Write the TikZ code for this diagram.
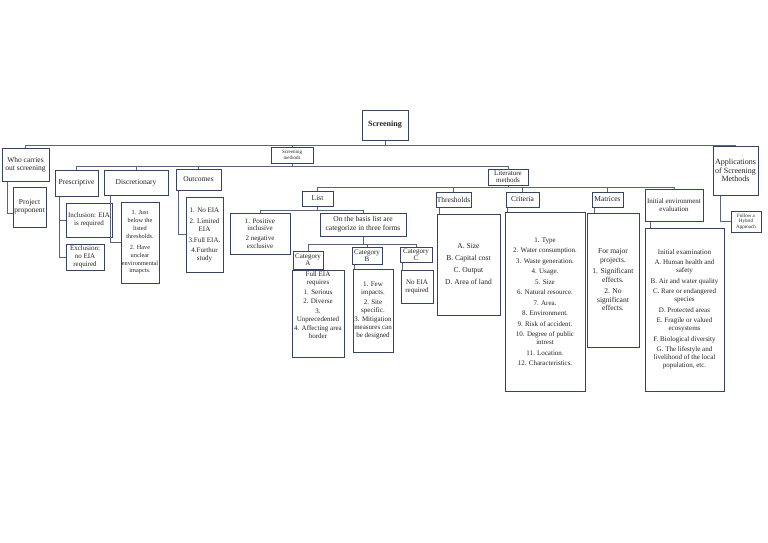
\documentclass[tikz,border=0pt]{standalone}
\usepackage{fontspec}
\setmainfont{Liberation Serif}
\definecolor{bc}{RGB}{55,68,95}
\definecolor{lc}{RGB}{90,100,124}
\definecolor{tc}{RGB}{35,35,35}
\newcommand{\myfs}[2]{\fontsize{#1}{#2}\selectfont}
\begin{document}
\begin{tikzpicture}[x=1pt,y=-1pt,
  bx/.style={draw=bc,line width=1pt,align=center,inner sep=0.5pt,text=tc,fill=white},
  ln/.style={draw=lc,line width=0.9pt}]
\fill[white] (0,0) rectangle (768,543);
\useasboundingbox (0,0) rectangle (768,543);

% top level
\node[bx,minimum width=46pt,minimum height=30pt,font=\myfs{8}{9}\bfseries] (scr) at (385,125) {Screening};
\node[bx,minimum width=42pt,minimum height=16pt,font=\myfs{5}{5.5}] (sm) at (292,155) {Screening\\methods};
\node[bx,minimum width=47pt,minimum height=33pt,font=\myfs{7.5}{8.5}] (who) at (25.5,164.5) {Who carries\\out screening};
\node[bx,minimum width=33pt,minimum height=40pt,font=\myfs{7.5}{8.5}] (pp) at (29.5,207) {Project\\proponent};
\node[bx,minimum width=45pt,minimum height=49pt,font=\myfs{8}{8.5}] (app) at (735.5,170.5) {Applications\\of Screening\\Methods};
\node[bx,minimum width=30pt,minimum height=21pt,font=\myfs{5}{5.5}] (hyb) at (746,221.5) {Follow a\\Hybrid\\Approach};

% second level
\node[bx,minimum width=43pt,minimum height=26pt,font=\myfs{7.5}{8.5}] (pre) at (76.5,183) {Prescriptive};
\node[bx,minimum width=64pt,minimum height=25pt,font=\myfs{7.5}{8.5}] (dis) at (136,182.5) {Discretionary};
\node[bx,minimum width=45pt,minimum height=21pt,font=\myfs{7.5}{8.5}] (out) at (198.5,179.5) {Outcomes};
\node[bx,minimum width=40pt,minimum height=16pt,font=\myfs{7}{7}] (lit) at (508,177) {Literature\\methods};

\node[bx,minimum width=46pt,minimum height=34pt,font=\myfs{7}{8}] (inc) at (89,220) {Inclusion: EIA\\is required};
\node[bx,minimum width=38pt,minimum height=26pt,font=\myfs{7}{7.8}] (exc) at (85,257) {Exclusion:\\no EIA\\required};
\node[bx,minimum width=38pt,minimum height=81pt,font=\myfs{6.3}{7.7}] (disl) at (140,242.5) {1. Just\\below the\\listed\\thresholds.\\[4pt]2. Have\\unclear\\environmental\\imapcts.};
\node[bx,minimum width=37pt,minimum height=75pt,font=\myfs{7}{8}] (outl) at (204.5,234.5) {1. No EIA\\[3pt]2. Limited\\EIA\\[3pt]3.Full EIA.\\[2pt]4.Furthur\\study};

% literature children
\node[bx,minimum width=31pt,minimum height=15pt,font=\myfs{7.5}{8}] (list) at (317.5,198.5) {List};
\node[bx,minimum width=35pt,minimum height=15pt,font=\myfs{7.5}{8}] (thr) at (453.5,199.5) {Thresholds};
\node[bx,minimum width=33pt,minimum height=15pt,font=\myfs{7.5}{8}] (cri) at (522.5,199.5) {Criteria};
\node[bx,minimum width=31pt,minimum height=15pt,font=\myfs{7.5}{8}] (mat) at (607.5,199.5) {Matrices};
\node[bx,minimum width=58pt,minimum height=32pt,font=\myfs{7}{8.5}] (ini) at (674,205) {Initial environment\\evaluation};

\node[bx,minimum width=60pt,minimum height=41pt,font=\myfs{7}{7.5}] (pos) at (260,233.5) {1. Positive\\inclusive\\[2.5pt]2 negative\\exclusive};
\node[bx,minimum width=86pt,minimum height=23pt,font=\myfs{7.5}{9}] (basis) at (363,224.5) {On the basis list are\\categorize in three forms};

\node[bx,minimum width=30pt,minimum height=18pt,font=\myfs{7}{7}] (catA) at (308,260) {Category\\A};
\node[bx,minimum width=30pt,minimum height=17pt,font=\myfs{7}{7}] (catB) at (367,255.5) {Category\\B};
\node[bx,minimum width=32pt,minimum height=15pt,font=\myfs{7}{7}] (catC) at (416,254.5) {Category\\C};

\node[bx,minimum width=52pt,minimum height=87pt,font=\myfs{7}{8}] (catAl) at (318,313.5) {Full EIA\\requires\\[1.5pt]1. Serious\\[1.5pt]2. Diverse\\[1.5pt]3.\\Unprecedented\\[1.5pt]4. Affecting area\\border\\[8pt]\mbox{}};
\node[bx,minimum width=40pt,minimum height=83pt,font=\myfs{7}{8}] (catBl) at (373,310.5) {1. Few\\impacts.\\[1.5pt]2. Site\\specific.\\[1.5pt]3. Mitigation\\measures can\\be designed};
\node[bx,minimum width=32pt,minimum height=33pt,font=\myfs{7}{8}] (catCl) at (417,286.5) {No EIA\\required};

\node[bx,minimum width=63pt,minimum height=101pt,font=\myfs{7.5}{9}] (thrl) at (468.5,264.5) {A. Size\\[3pt]B. Capital cost\\[3pt]C. Output\\[3pt]D. Area of land};
\node[bx,minimum width=80pt,minimum height=179pt,font=\myfs{7}{8}] (cril) at (545,301.5) {1. Type\\[2.5pt]2. Water consumption.\\[2.5pt]3. Waste generation.\\[2.5pt]4. Usage.\\[2.5pt]5. Size\\[2.5pt]6. Natural resource.\\[2.5pt]7. Area.\\[2.5pt]8. Environment.\\[2.5pt]9. Risk of accident.\\[2.5pt]10. Degree of public\\intrest\\[2.5pt]11. Location.\\[2.5pt]12. Characteristics.};
\node[bx,minimum width=52pt,minimum height=134pt,font=\myfs{7.5}{8.5}] (matl) at (613,280) {For major\\projects.\\[3pt]1. Significant\\effects.\\[3pt]2. No\\significant\\effects.};
\node[bx,minimum width=79pt,minimum height=163pt,font=\myfs{7}{8}] (inil) at (684.5,309.5) {Initial examination\\[2.5pt]A. Human health and\\safety\\[2.5pt]B. Air and water quality\\[2.5pt]C. Rare or endangered\\species\\[2.5pt]D. Protected areas\\[2.5pt]E. Fragile or valued\\ecosystems\\[2.5pt]F. Biological diversity\\[2.5pt]G. The lifestyle and\\livelihood of the local\\population, etc.};

% buses
\coordinate (t) at (0,145);
\coordinate (s) at (0,166);
\coordinate (l) at (0,187);
\coordinate (lb) at (0,210);
\coordinate (cb) at (0,244);

\draw[ln] (who.north) |- (t -| app.north) -- (app.north);
\draw[ln] (scr.south) -- (scr.south |- t);
\draw[ln] (sm.north) -- (sm.north |- t);

\draw[ln] (pre.north) |- (s -| lit.north) -- (lit.north);
\draw[ln] (sm.south) -- (sm.south |- s);
\draw[ln] (dis.north) -- (dis.north |- s);
\draw[ln] (out.north) -- (out.north |- s);

\draw[ln] (list.north) |- (l -| ini.north) -- (ini.north);
\draw[ln] (lit.south) -- (lit.south |- l);
\draw[ln] (thr.north) -- (thr.north |- l);
\draw[ln] (cri.north) -- (cri.north |- l);
\draw[ln] (mat.north) -- (mat.north |- l);

\draw[ln] (pos.north) |- (lb -| basis.north) -- (basis.north);
\draw[ln] (list.south) -- (list.south |- lb);

\draw[ln] (catA.north) |- (cb -| catC.north) -- (catC.north);
\draw[ln] (basis.south) -- (basis.south |- cb);
\draw[ln] (catB.north) -- (catB.north |- cb);

% side connectors
\coordinate (w1) at ([xshift=6pt]who.south west);
\draw[ln] (w1) |- ([yshift=-6pt]pp.west);
\coordinate (p1) at ([xshift=5pt]pre.south west);
\draw[ln] (p1) |- (inc.west);
\draw[ln] (p1) |- (exc.west);
\coordinate (d1) at ([xshift=7pt]dis.south west);
\draw[ln] (d1) |- (disl.west);
\coordinate (o1) at ([xshift=3pt]out.south west);
\draw[ln] (o1) |- (outl.west);
\coordinate (a1) at ([xshift=8pt]app.south west);
\draw[ln] (a1) |- (hyb.west);

% short drops
\coordinate (c1) at ([xshift=4pt]thr.south west);
\draw[ln] (c1) -- (c1 |- thrl.north);
\coordinate (c2) at ([xshift=2pt]cri.south west);
\draw[ln] (c2) -- (c2 |- cril.north);
\coordinate (c3) at ([xshift=3pt]mat.south west);
\draw[ln] (c3) -- (c3 |- matl.north);
\coordinate (c4) at ([xshift=6pt]ini.south west);
\draw[ln] (c4) -- (c4 |- inil.north);
\coordinate (c5) at ([xshift=3pt]catA.south west);
\draw[ln] (c5) -- (c5 |- catAl.north);
\coordinate (c6) at ([xshift=3pt]catB.south west);
\draw[ln] (c6) -- (c6 |- catBl.north);
\coordinate (c7) at ([xshift=3pt]catC.south west);
\draw[ln] (c7) -- (c7 |- catCl.north);
\end{tikzpicture}
\end{document}
